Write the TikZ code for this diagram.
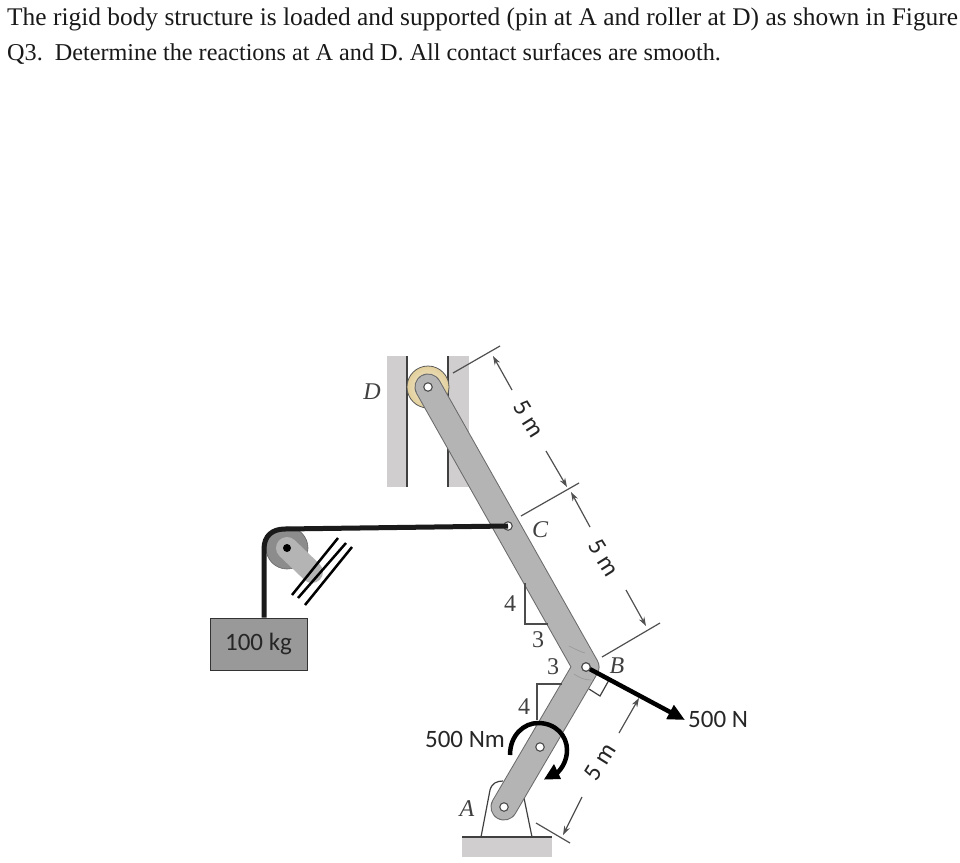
\documentclass[tikz,border=0pt]{standalone}
\usepackage{fontspec}
\setmainfont{Liberation Serif}
\newfontfamily\calib{Carlito}
\usetikzlibrary{arrows.meta}
\definecolor{armfill}{HTML}{B4B4B4}
\definecolor{armedge}{HTML}{6A6A6A}
\definecolor{dimc}{HTML}{505050}
\definecolor{wallc}{HTML}{D0CECE}
\definecolor{cablec}{HTML}{1A1A1A}
\definecolor{rollin}{HTML}{F6EDD6}
\definecolor{rollout}{HTML}{E2CF9C}
\tikzset{
  x=1pt,y=1pt,
  body/.style={anchor=base west,inner sep=0pt,text=black!90},
  lab/.style={inner sep=0pt,font=\fontsize{24}{28}\selectfont\itshape,text=black!75},
  num/.style={inner sep=0pt,font=\fontsize{24}{28}\selectfont,text=black!75},
  sans/.style={inner sep=0pt,font=\calib\fontsize{25}{29}\selectfont,text=black!85},
  dimtext/.style={inner sep=0pt,font=\calib\fontsize{25}{29}\selectfont,text=black!85},
  dimline/.style={draw=dimc,line width=1.2pt},
  dimarrow/.style={dimline,-{Stealth[length=9pt,width=6pt]}},
  wallline/.style={draw=black!75,line width=1.3pt},
  hatchline/.style={draw=black,line width=2.5pt},
  pin/.style={circle,draw=black!70,fill=white,line width=1.1pt,minimum size=8.5pt,inner sep=0pt},
  slope/.style={draw=black!70,line width=1.1pt},
}
\begin{document}
\begin{tikzpicture}
\useasboundingbox (0,0) rectangle (960,-862);
% text
\node[body,font=\fontsize{25.4}{29}\selectfont] (t1) at (7,-25) {The rigid body structure is loaded and supported (pin at A and roller at D) as shown in Figure};
\node[body,font=\fontsize{24.2}{29}\selectfont] (t2) at (7,-60) {Q3.\ \ Determine the reactions at A and D. All contact surfaces are smooth.};
% key points
\coordinate (D) at (428,-387);
\coordinate (B) at (586,-667);
\coordinate (A) at (504,-807);
% walls
\fill[wallc] (387,-356) rectangle (407,-487);
\fill[wallc] (448,-356) rectangle (469,-487);
\draw[wallline] (407,-356) -- (407,-487);
\draw[wallline] (448,-356) -- (448,-487);
% roller
\node[circle,minimum size=42pt,inner sep=0pt,draw=black!65,line width=0.8pt,inner color=rollin,outer color=rollout] (roller) at (D) {};
% ground and bracket
\fill[wallc] (462,-837) rectangle (552,-857);
\draw[draw=black!75,line width=1.4pt] (462,-837) -- (552,-837);
\draw[draw=black!75,line width=1.2pt] (481,-837) -- (490,-790) .. controls (492,-783) and (497,-781) .. (503,-781);
\draw[draw=black!75,line width=1.2pt] (532,-837) -- (524,-798);
% arms
\draw[armedge,line width=27pt,line cap=round,line join=round] (D) -- (B) -- (A);
\draw[armfill,line width=25pt,line cap=round,line join=round] (D) -- (B) -- (A);
\draw[draw=armedge!70,line width=0.6pt] (569,-646) .. controls (575,-649) and (581,-652) .. (585,-653);
\draw[draw=armedge!70,line width=0.6pt] (574,-674) .. controls (580,-678) and (585,-680) .. (591,-680);
% pins
\node[pin] (pinD) at (D) {};
\node[pin] (pinC) at (508,-526) {};
\node[pin] (pinB) at (586,-667) {};
\node[pin] (pinM) at (540,-747) {};
\node[pin] (pinA) at (A) {};
% pulley
\node[circle,minimum size=42pt,inner sep=0pt,fill=black!45,draw=black!60,line width=0.6pt] (pulley) at (287,-548) {};
\draw[armfill,line width=22pt,line cap=round] (pulley.center) -- (312,-572);
\node[circle,fill=black,minimum size=8pt,inner sep=0pt] (axle) at (pulley.center) {};
% hatch
\draw[hatchline] (292,-595) -- (338,-538);
\draw[hatchline] (298,-598) -- (346,-543);
\draw[hatchline] (305,-605) -- (352,-547);
% block
\node[draw=black!80,fill=black!40,line width=1pt,minimum width=97pt,minimum height=52pt,inner sep=0pt,sans] (block) at (258.5,-644) {100 kg};
% cable
\draw[cablec,line width=5pt,line join=round] (block.north -| 264,0) -- (264,-549) .. controls (264,-536) and (272,-529) .. (285,-529) -- (pinC.center);
% slope triangles
\coordinate (s1) at (525,-583);
\coordinate (s2) at (525,-624);
\coordinate (s3) at (548,-624);
\draw[slope] (s1) -- (s2) -- (s3);
\coordinate (s4) at (562,-684);
\coordinate (s5) at (537,-684);
\coordinate (s6) at (537,-720);
\draw[slope] (s4) -- (s5) -- (s6);
\node[num] (n4a) at (510,-604) {4};
\node[num] (n3a) at (538,-640) {3};
\node[num] (n3b) at (553,-667) {3};
\node[num] (n4b) at (524,-707) {4};
% right-angle mark
\coordinate (r1) at (589,-689);
\coordinate (r2) at (600,-696);
\coordinate (r3) at (609,-680);
\draw[draw=black!75,line width=1.2pt] (r1) -- (r2) -- (r3);
% force
\coordinate (ftip) at (685,-720);
\node[sans,anchor=west] (fl) at (688,-719) {500 N};
\draw[black,line width=4.5pt,-{Triangle[length=17pt,width=15pt]}] (pinB.center) -- (ftip);
\node[pin] at (pinB) {};
% moment
\draw[black,line width=4.5pt] (510,-755) .. controls (510,-735) and (524,-723) .. (538,-723) .. controls (556,-723) and (567,-736) .. (567,-750) .. controls (567,-759) and (563,-768) .. (556,-774);
\fill[black] (544,-779.5) -- (561,-779) -- (554,-764) -- cycle;
\node[sans,anchor=center] (ml) at (465,-739) {500 Nm};
% labels
\node[lab] (lD) at (372,-392) {D};
\node[lab] (lC) at (540,-530) {C};
\node[lab] (lB) at (617,-666) {B};
\node[lab] (lA) at (467,-809) {A};
% dimensions
\coordinate (e1a) at (453,-373); \coordinate (e1b) at (500,-346);
\coordinate (e2a) at (521,-516); \coordinate (e2b) at (579,-483);
\coordinate (e3a) at (602,-657); \coordinate (e3b) at (660,-623);
\coordinate (e4a) at (536,-823); \coordinate (e4b) at (570,-843);
\draw[dimline] (e1a) -- (e1b);
\draw[dimline] (e2a) -- (e2b);
\draw[dimline] (e3a) -- (e3b);
\draw[dimline] (e4a) -- (e4b);
\coordinate (d1s) at (512,-390); \coordinate (d1t) at (493,-356);
\coordinate (d2s) at (546,-451); \coordinate (d2t) at (567,-487);
\coordinate (d3s) at (590,-527); \coordinate (d3t) at (571,-492);
\coordinate (d4s) at (626,-590); \coordinate (d4t) at (646,-626);
\coordinate (d5s) at (619,-733); \coordinate (d5t) at (639,-698);
\coordinate (d6s) at (582,-797); \coordinate (d6t) at (563,-835);
\draw[dimarrow] (d1s) -- (d1t);
\draw[dimarrow] (d2s) -- (d2t);
\draw[dimarrow] (d3s) -- (d3t);
\draw[dimarrow] (d4s) -- (d4t);
\draw[dimarrow] (d5s) -- (d5t);
\draw[dimarrow] (d6s) -- (d6t);
\node[dimtext,rotate=-58] (m1) at (529,-419) {5 m};
\node[dimtext,rotate=-58] (m2) at (604,-558) {5 m};
\node[dimtext,rotate=58] (m3) at (600,-762) {5 m};
\end{tikzpicture}
\end{document}
